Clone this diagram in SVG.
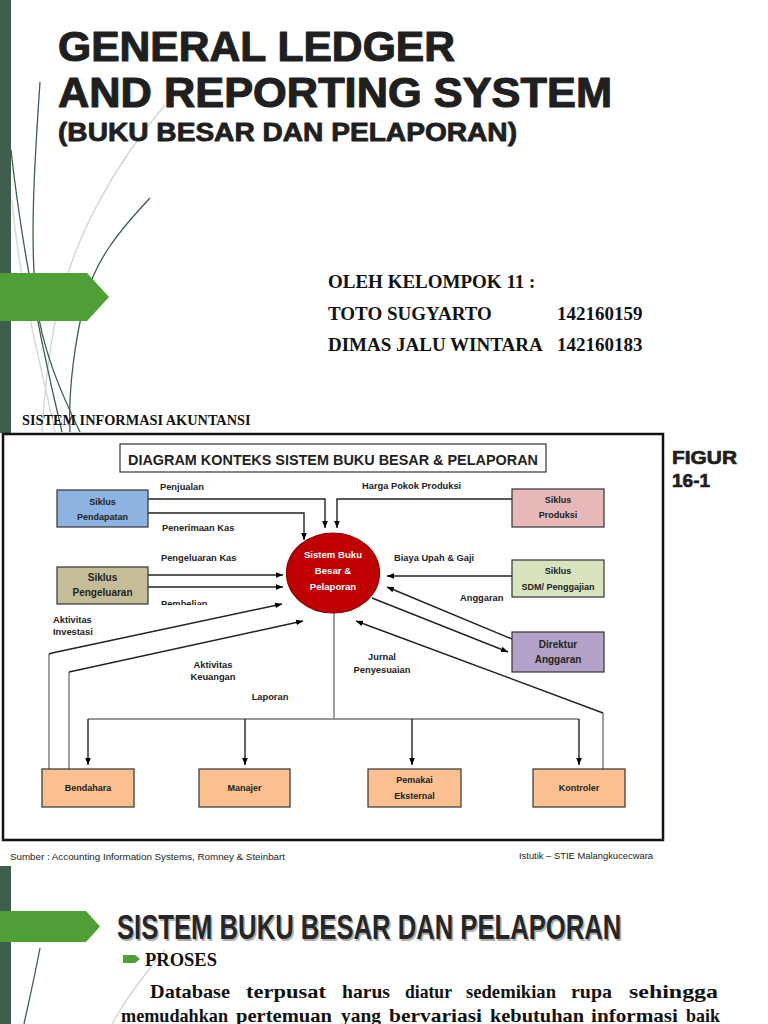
<svg xmlns="http://www.w3.org/2000/svg" width="768" height="1024" viewBox="0 0 768 1024">
<defs>
<style>
.deco{fill:none;stroke-width:1.3}
.dk{stroke:#3f5e4b}
.lt{stroke:#d0d6d2}
.title{font-family:"Liberation Sans",Arial,sans-serif;font-weight:bold;fill:#1f1f1f}
.heavy{stroke:#1f1f1f;stroke-width:1.1;stroke-linejoin:round}
.serif{font-family:"Liberation Serif","Times New Roman",serif;font-weight:bold;fill:#111}
.box{stroke:#333;stroke-width:1.2}
.nt{font-family:"Liberation Sans",Arial,sans-serif;font-weight:bold;font-size:9px;fill:#222;text-anchor:middle}
.lb{font-family:"Liberation Sans",Arial,sans-serif;font-weight:bold;font-size:9.3px;fill:#222}
.ln{fill:none;stroke:#222;stroke-width:1.4}
.gl{fill:none;stroke:#777;stroke-width:1.4}
.foot{font-family:"Liberation Sans",Arial,sans-serif;font-size:9.5px;fill:#222}
</style>
<marker id="arr" viewBox="0 0 10 10" refX="10" refY="5" markerWidth="7" markerHeight="7" orient="auto" markerUnits="userSpaceOnUse"><path d="M0,1 L10,5 L0,9 z" fill="#000"/></marker>
<clipPath id="clipPemb"><rect x="150" y="590" width="80" height="15"/></clipPath>
</defs>
<rect width="768" height="1024" fill="#fff"/>

<!-- top slide decoration -->
<rect x="0" y="0" width="11" height="433" fill="#3f5e4b"/>
<path class="deco lt" d="M165,105 C110,170 75,240 60,300 C48,350 45,390 42,432"/>
<path class="deco lt" d="M12,200 C20,290 40,360 55,432"/>
<path class="deco dk" d="M40,82 C34,170 30,240 36,300 C42,350 62,395 80,432"/>
<path class="deco dk" d="M150,198 C120,230 95,260 85,300 C75,340 68,390 70,432"/>
<path class="deco dk" d="M11,150 C22,250 40,340 62,432"/>
<path d="M0,273 H87 L109,297 L87,321 H0 Z" fill="#4e9f35"/>

<text class="title heavy" x="58" y="61" font-size="42" textLength="397" lengthAdjust="spacingAndGlyphs">GENERAL LEDGER</text>
<text class="title heavy" x="58" y="107" font-size="42" textLength="554" lengthAdjust="spacingAndGlyphs">AND REPORTING SYSTEM</text>
<text class="title heavy" x="58" y="141" font-size="25" textLength="459" lengthAdjust="spacingAndGlyphs" style="stroke-width:0.8">(BUKU BESAR DAN PELAPORAN)</text>

<text class="serif" x="328" y="288" font-size="19">OLEH KELOMPOK 11 :</text>
<text class="serif" x="328" y="320" font-size="19">TOTO SUGYARTO</text>
<text class="serif" x="557" y="320" font-size="19">142160159</text>
<text class="serif" x="328" y="351" font-size="19">DIMAS JALU WINTARA</text>
<text class="serif" x="557" y="351" font-size="19">142160183</text>
<text class="serif" x="22" y="425" font-size="14.3">SISTEM INFORMASI AKUNTANSI</text>

<!-- diagram frame -->
<rect x="3" y="434" width="660" height="406" fill="#fff" stroke="#111" stroke-width="2.5"/>
<rect x="120" y="444" width="426" height="28" fill="#fff" stroke="#333" stroke-width="1.2"/>
<text class="title" x="128" y="465" font-size="14.4" textLength="410" lengthAdjust="spacingAndGlyphs">DIAGRAM KONTEKS SISTEM BUKU BESAR &amp; PELAPORAN</text>

<text class="title heavy" x="672" y="464" font-size="19" textLength="65" lengthAdjust="spacingAndGlyphs" style="stroke-width:0.7">FIGUR</text>
<text class="title heavy" x="672" y="487" font-size="19" style="stroke-width:0.7">16-1</text>

<!-- connectors -->
<g id="connectors">
<path class="ln" d="M148,499 H325 V528" marker-end="url(#arr)"/>
<path class="ln" d="M148,513 H304 V540" marker-end="url(#arr)"/>
<path class="ln" d="M512,499 H337 V528" marker-end="url(#arr)"/>
<path class="ln" d="M148,575 H283" marker-end="url(#arr)"/>
<path class="ln" d="M148,587 H283" marker-end="url(#arr)"/>
<path class="gl" d="M49,769 V654"/>
<path class="ln" d="M49,654 L52,653 L282,604" marker-end="url(#arr)"/>
<path class="gl" d="M69,769 V672"/>
<path class="ln" d="M69,672 L303,621" marker-end="url(#arr)"/>
<path class="ln" d="M512,576 H387" marker-end="url(#arr)"/>
<path class="ln" d="M512,639 L387,587" marker-end="url(#arr)"/>
<path class="ln" d="M372,598 L508,652" marker-end="url(#arr)"/>
<path class="gl" d="M603,769 V713"/>
<path class="ln" d="M603,713 L356,621" marker-end="url(#arr)"/>
<path class="gl" d="M334,613 V719 M88,719 H579"/>
<path class="ln" d="M88,719 V765" marker-end="url(#arr)"/>
<path class="ln" d="M245,719 V765" marker-end="url(#arr)"/>
<path class="ln" d="M412,719 V765" marker-end="url(#arr)"/>
<path class="ln" d="M579,719 V765" marker-end="url(#arr)"/>
</g>

<!-- labels -->
<text class="lb" x="160" y="490">Penjualan</text>
<text class="lb" x="162" y="531">Penerimaan Kas</text>
<text class="lb" x="362" y="489">Harga Pokok Produksi</text>
<text class="lb" x="161" y="561">Pengeluaran Kas</text>
<text class="lb" x="161" y="607" clip-path="url(#clipPemb)">Pembelian</text>
<text class="lb" x="53" y="623">Aktivitas</text>
<text class="lb" x="53" y="635">Investasi</text>
<text class="lb" x="213" y="668" text-anchor="middle">Aktivitas</text>
<text class="lb" x="213" y="680" text-anchor="middle">Keuangan</text>
<text class="lb" x="270" y="700" text-anchor="middle">Laporan</text>
<text class="lb" x="394" y="561">Biaya Upah &amp;  Gaji</text>
<text class="lb" x="460" y="601">Anggaran</text>
<text class="lb" x="382" y="660" text-anchor="middle">Jurnal</text>
<text class="lb" x="382" y="673" text-anchor="middle" font-size="8.6">Penyesuaian</text>

<!-- nodes -->
<g id="node-center">
<ellipse cx="333" cy="573" rx="46.5" ry="40" fill="#c00000" stroke="#8b0000" stroke-width="1.2"/>
<text class="nt" x="333" y="558" style="fill:#fff;font-size:9.6px">Sistem Buku</text>
<text class="nt" x="333" y="574" style="fill:#fff;font-size:9.6px">Besar &amp;</text>
<text class="nt" x="333" y="590" style="fill:#fff;font-size:9.6px">Pelaporan</text>
</g>
<g id="node-pendapatan">
<rect class="box" x="57" y="490" width="91" height="37" fill="#8db3e2"/>
<text class="nt" x="102.5" y="505">Siklus</text>
<text class="nt" x="102.5" y="520">Pendapatan</text>
</g>
<g id="node-pengeluaran">
<rect class="box" x="57" y="567" width="91" height="37" fill="#c4bd97"/>
<text class="nt" x="102.5" y="581" style="font-size:10px">Siklus</text>
<text class="nt" x="102.5" y="596" style="font-size:10px">Pengeluaran</text>
</g>
<g id="node-produksi">
<rect class="box" x="512" y="489" width="92" height="38" fill="#e6b9b8"/>
<text class="nt" x="558" y="503">Siklus</text>
<text class="nt" x="558" y="518">Produksi</text>
</g>
<g id="node-sdm">
<rect class="box" x="512" y="560" width="92" height="37" fill="#d7e4bd"/>
<text class="nt" x="558" y="574">Siklus</text>
<text class="nt" x="558" y="590">SDM/ Penggajian</text>
</g>
<g id="node-direktur">
<rect class="box" x="512" y="632" width="92" height="40" fill="#b3a2c7"/>
<text class="nt" x="558" y="648" style="font-size:10px">Direktur</text>
<text class="nt" x="558" y="663" style="font-size:10px">Anggaran</text>
</g>
<g id="node-bendahara">
<rect class="box" x="42" y="769" width="92" height="38" fill="#fac090"/>
<text class="nt" x="88" y="791">Bendahara</text>
</g>
<g id="node-manajer">
<rect class="box" x="199" y="769" width="91" height="38" fill="#fac090"/>
<text class="nt" x="244.5" y="791">Manajer</text>
</g>
<g id="node-pemakai">
<rect class="box" x="368" y="769" width="93" height="38" fill="#fac090"/>
<text class="nt" x="414.5" y="783">Pemakai</text>
<text class="nt" x="414.5" y="799">Eksternal</text>
</g>
<g id="node-kontroler">
<rect class="box" x="533" y="769" width="92" height="38" fill="#fac090"/>
<text class="nt" x="579" y="791">Kontroler</text>
</g>

<text class="foot" x="10" y="860" textLength="275" lengthAdjust="spacingAndGlyphs">Sumber : Accounting Information Systems, Romney &amp; Steinbart</text>
<text class="foot" x="519" y="859" textLength="134" lengthAdjust="spacingAndGlyphs">Istutik – STIE Malangkucecwara</text>

<!-- second slide -->
<rect x="0" y="866" width="11" height="158" fill="#3f5e4b"/>
<path class="deco dk" d="M40,948 C34,980 28,1005 24,1024"/>
<path class="deco lt" d="M165,950 C140,980 125,1000 112,1024"/>
<path d="M0,911 H86 L100,926.5 L86,942 H0 Z" fill="#4e9f35"/>
<text class="title" transform="translate(118.5,940.5) scale(0.733,1)" font-size="35" style="fill:#b0b0b0">SISTEM BUKU BESAR DAN PELAPORAN</text>
<text class="title" transform="translate(117,939) scale(0.733,1)" font-size="35" style="fill:#262626">SISTEM BUKU BESAR DAN PELAPORAN</text>
<path d="M123,955 H135 L140,959 L135,963 H123 Z" fill="#4e9f35"/>
<text class="serif" x="145" y="966" font-size="18.5">PROSES</text>
<g class="serif" font-size="19.5">
<text x="150" y="998" textLength="80" lengthAdjust="spacingAndGlyphs">Database</text>
<text x="246" y="998" textLength="80" lengthAdjust="spacingAndGlyphs">terpusat</text>
<text x="342" y="998" textLength="48" lengthAdjust="spacingAndGlyphs">harus</text>
<text x="405" y="998" textLength="47" lengthAdjust="spacingAndGlyphs">diatur</text>
<text x="466" y="998" textLength="90" lengthAdjust="spacingAndGlyphs">sedemikian</text>
<text x="571" y="998" textLength="41" lengthAdjust="spacingAndGlyphs">rupa</text>
<text x="629" y="998" textLength="89" lengthAdjust="spacingAndGlyphs">sehingga</text>
<text x="121" y="1022" textLength="107" lengthAdjust="spacingAndGlyphs">memudahkan</text>
<text x="236" y="1022" textLength="96" lengthAdjust="spacingAndGlyphs">pertemuan</text>
<text x="341" y="1022" textLength="40" lengthAdjust="spacingAndGlyphs">yang</text>
<text x="389" y="1022" textLength="93" lengthAdjust="spacingAndGlyphs">bervariasi</text>
<text x="490" y="1022" textLength="94" lengthAdjust="spacingAndGlyphs">kebutuhan</text>
<text x="591" y="1022" textLength="87" lengthAdjust="spacingAndGlyphs">informasi</text>
<text x="686" y="1022" textLength="34" lengthAdjust="spacingAndGlyphs">baik</text>
</g>
</svg>
